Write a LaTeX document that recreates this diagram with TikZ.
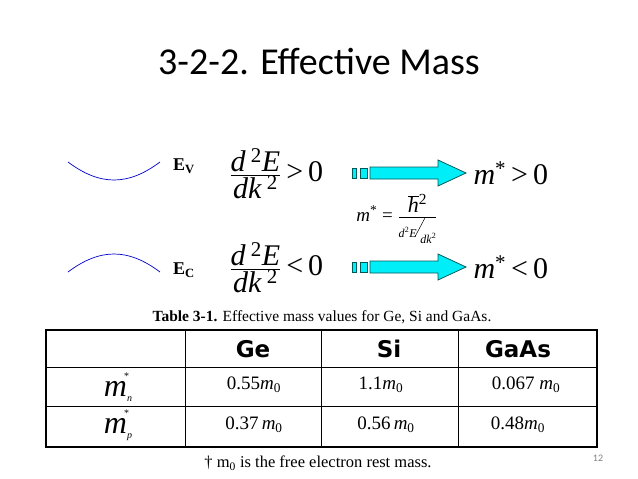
\documentclass[tikz,border=0pt]{standalone}
\usepackage{fontspec}
\setmainfont{Liberation Serif}
\newfontfamily\titlefont{Carlito}
\newfontfamily\hdrfont{DejaVu Sans}
\newcommand{\msub}[1]{\textit{m}\rlap{\raisebox{17pt}{\fontsize{10}{11}\selectfont\hspace{-3pt}*}}\raisebox{-5pt}{\fontsize{10}{11}\selectfont\textit{#1}}}
\newcommand{\dfr}{$\frac{\mbox{\textit{d}\,\textsuperscript{2}\textit{E}}}{\mbox{\textit{dk}\,\textsuperscript{2}}}$}
\begin{document}
\begin{tikzpicture}[x=1pt,y=-1pt,
  arc/.style={blue!80!black,line width=0.7pt},
  big/.style={font=\fontsize{30}{32}\selectfont},
  fatarrow/.style={draw=teal!70!black,fill={rgb,255:red,0;green,238;blue,248},line width=0.8pt},
  cell/.style={font=\fontsize{19}{21}\selectfont},
  hdr/.style={font=\hdrfont\bfseries\fontsize{23}{25}\selectfont}]
\useasboundingbox (0,0) rectangle (638,479);
\node (title) at (319,62) {\titlefont\fontsize{38}{42}\selectfont 3-2-2. Effective Mass};
% band arcs
\draw[arc] (68,162) .. controls (100,186) and (128,186) .. (160,162) coordinate (ev);
\draw[arc] (68,272) .. controls (100,248) and (128,248) .. (160,272) coordinate (ec);
\node[font=\bfseries\fontsize{18}{20}\selectfont] (EV) at (184,166) {E\textsubscript{V}};
\node[font=\bfseries\fontsize{18}{20}\selectfont] (EC) at (184,270) {E\textsubscript{C}};
% derivatives
\node[big,anchor=west] (d1) at (226,174) {\dfr\,{>}\,0};
\node[big,anchor=west] (d2) at (226,268) {\dfr\,{<}\,0};
% arrows
\foreach \y/\n in {173/a,267/b}{
  \draw[fatarrow] (352,\y-5) rectangle (356,\y+5);
  \draw[fatarrow] (360,\y-5) rectangle (367,\y+5);
  \draw[fatarrow] (370,\y-6) -- (438,\y-6) -- (438,\y-13) -- (466,\y) -- (438,\y+13) -- (438,\y+6) -- (370,\y+6) -- cycle;
  \coordinate (arr\n) at (466,\y);
}
\node[big,anchor=west] (m1) at (470,173) {\textit{m}\textsuperscript{*}\,{>}\,0};
\node[big,anchor=west] (m2) at (470,267) {\textit{m}\textsuperscript{*}\,{<}\,0};
\node (mdef) at (397,219) {\fontsize{19}{21}\selectfont\textit{m}\textsuperscript{*} =
  $\frac{\raisebox{2pt}{\fontsize{22}{24}\selectfont$\overline{\textit{h}}$\textsuperscript{2}}}{\raisebox{-8pt}{\fontsize{12}{14}\selectfont\textit{d}\textsuperscript{2}\textit{E}\hspace{-2pt}\rotatebox{62}{\rule{22pt}{0.5pt}}\hspace{-5pt}\raisebox{-6pt}{\textit{dk}\textsuperscript{2}}}}$};
% caption
\node[font=\fontsize{15.5}{17}\selectfont] (cap) at (322,317) {\textbf{Table 3-1.} Effective mass values for Ge, Si and GaAs.};
% table
\draw[line width=1.6pt] (46,330) rectangle (597,447);
\draw[line width=0.9pt] (46,367) -- (597,367) (46,406) -- (597,406)
  (185,330) -- (185,447) (321,330) -- (321,447) (458,330) -- (458,447);
\node[hdr] (ge) at (253,349) {Ge};
\node[hdr] (si) at (389,349) {Si};
\node[hdr] (gaas) at (518,349) {GaAs};
\node[font=\fontsize{32}{34}\selectfont] (mn) at (118,387) {\msub{n}};
\node[font=\fontsize{32}{34}\selectfont] (mp) at (118,425) {\msub{p}};
\node[cell] at (254,385) {0.55\textit{m}\textsubscript{0}};
\node[cell] at (381,385) {1.1\textit{m}\textsubscript{0}};
\node[cell] at (526,385) {0.067 \textit{m}\textsubscript{0}};
\node[cell] at (254,425) {0.37\,\textit{m}\textsubscript{0}};
\node[cell] at (386,425) {0.56\,\textit{m}\textsubscript{0}};
\node[cell] at (518,425) {0.48\textit{m}\textsubscript{0}};
\node[font=\fontsize{16.5}{18}\selectfont] (foot) at (318,463) {† m\textsubscript{0} is the free electron rest mass.};
\node[font=\titlefont\fontsize{10}{11}\selectfont,text=gray] (pg) at (598,458) {12};
\end{tikzpicture}
\end{document}
